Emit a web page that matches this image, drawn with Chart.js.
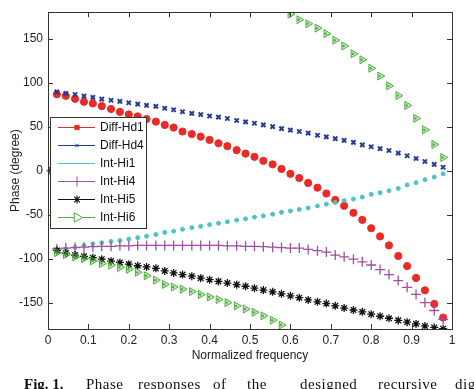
<!DOCTYPE html>
<html>
<head>
<meta charset="utf-8">
<script src="https://cdn.jsdelivr.net/npm/chart.js@4.4.0/dist/chart.umd.min.js"></script>
<style>
    html, body { margin: 0; padding: 0; background: #fff; }
    #wrap { position: relative; width: 474px; height: 389px; overflow: hidden; }
    #phase-chart { position: absolute; left: 0; top: 0; }
    #caption span {
        position: absolute; top: 377px; white-space: nowrap;
        font-family: "Liberation Serif", "Times New Roman", serif; font-size: 15px;
        line-height: 15px; color: #111; letter-spacing: 0.5px;
    }
    #caption span.fig { font-weight: bold; letter-spacing: 0; }
</style>
</head>
<body>
<div id="wrap">
    <canvas id="phase-chart" width="474" height="389"></canvas>
    <div id="caption">
        <span class="fig" style="left:24px">Fig. 1.</span>
        <span style="left:86px">Phase</span>
        <span style="left:138px">responses</span>
        <span style="left:213px">of</span>
        <span style="left:247px">the</span>
        <span style="left:300px">designed</span>
        <span style="left:378px">recursive</span>
        <span style="left:455px">digital</span>
    </div>
</div>
<script>
// normalized frequency of each sample
var freqs = [0, 0.022, 0.044, 0.067, 0.089, 0.111, 0.133, 0.156, 0.178, 0.2, 0.222, 0.244, 0.267, 0.289, 0.311,
    0.333, 0.356, 0.378, 0.4, 0.422, 0.444, 0.467, 0.489, 0.511, 0.533, 0.556, 0.578, 0.6, 0.622, 0.644, 0.667,
    0.689, 0.711, 0.733, 0.756, 0.778, 0.8, 0.822, 0.844, 0.867, 0.889, 0.911, 0.933, 0.956, 0.978];

// phase (degree)
var diffHd1 = [0, 86.7, 84.9, 81.6, 78.2, 76.3, 73.3, 70, 66.7, 63.8, 61.6, 58.6, 55.6, 51.9, 48.9, 44.4, 41.5,
    38.6, 34.9, 31.1, 27.8, 23.3, 19.3, 15.6, 11.1, 7.1, 1.9, -3.7, -8.4, -14, -19.4, -26, -33.3, -40, -48, -56,
    -65.5, -74.8, -85, -97, -108.5, -122, -136, -151.5, -167];
var diffHd4 = [0, 89.5, 87.8, 86.5, 84.6, 83.2, 81.2, 79.9, 78.7, 77.1, 75.6, 74.1, 72.9, 70.8, 69.1, 66.9, 65,
    63.7, 62, 60.8, 59.2, 56.9, 55.4, 53.8, 51.9, 50, 47.7, 46, 44.4, 42.6, 40.2, 38.3, 36.3, 34.3, 32.1, 29.2,
    27.1, 24.9, 22.8, 19.9, 16.9, 13.8, 10.3, 7.1, 3.8];
var intHi1 = [0, -89.6, -88.9, -87, -85.1, -83.4, -82, -80.6, -79.4, -77.8, -76.2, -74.6, -72.6, -70.2, -68.8,
    -66.7, -64.8, -63.3, -61.4, -59.8, -58.1, -56.3, -54.8, -52.9, -51.4, -49.6, -47.4, -45.9, -44.1, -42.5, -40.1,
    -38.1, -36.2, -34.1, -32.4, -30.1, -27, -25.1, -22.9, -20.2, -16.3, -13.7, -10.3, -7.3, -3.7];
var intHi4 = [0, -89, -88, -87.5, -87, -86.5, -86, -86, -85.5, -85.5, -85, -85, -85, -85, -85, -85, -85, -85, -85,
    -85, -85.5, -85.5, -86, -86, -86.5, -87, -87.5, -88, -88, -89.6, -91, -92.6, -96, -98, -100.7, -103.7, -107.3,
    -112.5, -118.2, -125, -132.6, -140.7, -150, -159, -169];
var intHi5 = [0, -90.7, -93.7, -96, -97.5, -99, -100.7, -102.9, -104.4, -106.3, -108.1, -109.5, -111.1, -114,
    -116.3, -118.2, -120, -122.2, -124, -125.9, -127.8, -129.6, -131.4, -133.6, -135.8, -137.8, -140, -142.3, -144.4,
    -147, -149.1, -151.1, -153.7, -156.2, -158.4, -160.5, -163.2, -165.5, -167.8, -170.2, -172.2, -174.2, -176.5,
    -178.2, -179.7];
var intHi6 = [0, -93.3, -95.6, -98.1, -100, -102.6, -105.6, -107.4, -110, -112.2, -115.6, -119.5, -124.5, -129.3,
    -132.3, -134.8, -137.5, -140.8, -143.7, -146.6, -150, -153.7, -157.3, -161, -165, -170, -175.5, 177.8, 171.5,
    166.8, 161.9, 155.6, 148.2, 141.6, 132.7, 126, 116.3, 107.4, 96.3, 85.2, 74.1, 59.3, 46.3, 29.7, 14.9];

var xTicks = [0, 0.1, 0.2, 0.3, 0.4, 0.5, 0.6, 0.7, 0.8, 0.9, 1];
var yTicks = [-150, -100, -50, 0, 50, 100, 150];

var FRAME = "#333333";

function pts(vals) {
    return vals.map(function (v, i) { return { x: freqs[i], y: v }; });
}

// marker per series (MATLAB style), legend marker separately
var series = [
    { label: "Diff-Hd1", vals: diffHd1, color: "#ea2a24", style: "circle", r: 3.6, bw: 1, fill: true,
        legend: { style: "rect", r: 3, bw: 1, fill: true } },
    { label: "Diff-Hd4", vals: diffHd4, color: "#273a96", style: "crossRot", r: 3, bw: 2, fill: false,
        legend: { style: "crossRot", r: 2.5, bw: 1, fill: false } },
    { label: "Int-Hi1", vals: intHi1, color: "#4fc2c4", style: "circle", r: 2, bw: 1, fill: true,
        legend: null },
    { label: "Int-Hi4", vals: intHi4, color: "#a24ea0", style: "cross", r: 5, bw: 1.3, fill: false,
        legend: { style: "cross", r: 5, bw: 1, fill: false } },
    { label: "Int-Hi5", vals: intHi5, color: "#111111", style: "star", r: 4, bw: 1.3, fill: false,
        legend: { style: "star", r: 4, bw: 1.2, fill: false } },
    { label: "Int-Hi6", vals: intHi6, color: "#4cae3c", style: "triangle", r: 4.6, bw: 1, fill: false,
        legend: { style: "triangle", r: 5.5, bw: 1, fill: false } }
];

var datasets = series.map(function (s, i) {
    return {
        label: s.label,
        data: pts(s.vals),
        showLine: false,
        pointStyle: s.style,
        pointRadius: s.r,
        pointBorderWidth: s.bw,
        pointRotation: s.style === "triangle" ? 90 : 0,
        pointBorderColor: s.color,
        pointBackgroundColor: s.fill ? s.color : (s.style === "triangle" ? "rgba(76,174,60,0.3)" : "transparent"),
        borderColor: s.color,
        backgroundColor: s.color,
        order: series.length - i
    };
});

var framePlugin = {
    id: "matlabFrame",
    afterDatasetsDraw: function (chart) {
        // small dot inside each Int-Hi6 triangle
        var ctx = chart.ctx;
        var meta = chart.getDatasetMeta(5);
        ctx.save();
        ctx.fillStyle = "#4cae3c";
        meta.data.forEach(function (p) {
            ctx.beginPath();
            ctx.arc(p.x - 0.5, p.y, 1.2, 0, Math.PI * 2);
            ctx.fill();
        });
        ctx.restore();
    },
    afterDraw: function (chart) {
        var ctx = chart.ctx;
        var a = chart.chartArea;
        var xs = chart.scales.x, ys = chart.scales.y;
        ctx.save();
        ctx.strokeStyle = FRAME;
        ctx.lineWidth = 1;
        ctx.strokeRect(Math.round(a.left) + 0.5, Math.round(a.top) + 0.5,
            Math.round(a.right - a.left), Math.round(a.bottom - a.top));
        ctx.beginPath();
        xTicks.forEach(function (v) {
            var px = Math.round(xs.getPixelForValue(v)) + 0.5;
            ctx.moveTo(px, a.bottom); ctx.lineTo(px, a.bottom - 5);
            ctx.moveTo(px, a.top); ctx.lineTo(px, a.top + 5);
        });
        yTicks.forEach(function (v) {
            var py = Math.round(ys.getPixelForValue(v)) + 0.5;
            ctx.moveTo(a.left, py); ctx.lineTo(a.left + 5, py);
            ctx.moveTo(a.right, py); ctx.lineTo(a.right - 5, py);
        });
        ctx.stroke();

        // legend box inside the axes
        var bx = 50.5, by = 117.5, bw = 96, bh = 111;
        ctx.fillStyle = "#fff";
        ctx.fillRect(bx, by, bw, bh);
        ctx.strokeStyle = FRAME;
        ctx.strokeRect(bx, by, bw, bh);
        ctx.font = "12px 'Liberation Sans', Arial, sans-serif";
        ctx.textBaseline = "middle";
        ctx.textAlign = "left";
        series.forEach(function (s, i) {
            var y = 127.5 + i * 18;
            ctx.strokeStyle = s.color;
            ctx.lineWidth = 1;
            ctx.beginPath();
            ctx.moveTo(58, y); ctx.lineTo(95, y);
            ctx.stroke();
            if (s.legend) {
                ctx.fillStyle = s.legend.fill ? s.color : "#fff";
                ctx.lineWidth = s.legend.bw;
                Chart.helpers.drawPoint(ctx, {
                    pointStyle: s.legend.style,
                    radius: s.legend.r,
                    rotation: s.legend.style === "triangle" ? 90 : 0,
                    borderWidth: s.legend.bw
                }, 77, y);
            }
            ctx.fillStyle = "#111";
            ctx.fillText(s.label, 100, y + 0.5);
        });
        ctx.restore();
    }
};

Chart.defaults.font.family = "'Liberation Sans', Arial, sans-serif";
Chart.defaults.font.size = 12;
Chart.defaults.color = "#222";

new Chart(document.getElementById("phase-chart"), {
    type: "scatter",
    data: { datasets: datasets },
    options: {
        responsive: false,
        animation: false,
        layout: { padding: { top: 4, right: 22, left: 0, bottom: 0 } },
        plugins: { legend: { display: false }, tooltip: { enabled: false } },
        scales: {
            x: {
                type: "linear",
                min: 0,
                max: 1,
                afterBuildTicks: function (scale) {
                    scale.ticks = xTicks.map(function (v) { return { value: v }; });
                },
                afterFit: function (scale) { scale.height = 60; },
                grid: { display: true, drawOnChartArea: false, drawTicks: false },
                border: { display: false },
                ticks: {
                    padding: 4, maxRotation: 0, autoSkip: false, color: "#222",
                    callback: function (v) { return String(Math.round(v * 10) / 10); }
                },
                title: { display: true, text: "Normalized frequency", color: "#222",
                    font: { size: 12 }, padding: { top: 0, bottom: 26 } }
            },
            y: {
                type: "linear",
                min: -180,
                max: 180,
                afterBuildTicks: function (scale) {
                    scale.ticks = yTicks.map(function (v) { return { value: v }; });
                },
                afterFit: function (scale) { scale.width = 48; },
                grid: { display: true, drawOnChartArea: false, drawTicks: false },
                border: { display: false },
                ticks: { padding: 5, color: "#222" },
                title: { display: true, text: "Phase (degree)", color: "#222",
                    font: { size: 12 }, padding: { top: 8, bottom: 0 } }
            }
        }
    },
    plugins: [framePlugin]
});
</script>
</body>
</html>
